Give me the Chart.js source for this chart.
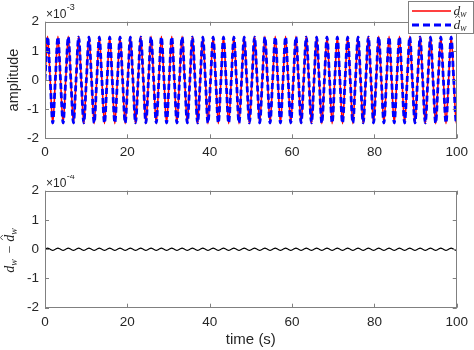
<!DOCTYPE html>
<html>
<head>
<meta charset="utf-8">
<script src="https://cdn.jsdelivr.net/npm/chart.js@4.4.0/dist/chart.umd.min.js"></script>
<style>
  html, body { margin: 0; padding: 0; background: #fff; }
  .panel { position: absolute; left: 0; width: 474px; height: 175px; }
</style>
</head>
<body>
<div class="panel" style="top:0"><canvas id="topChart" width="474" height="175"></canvas></div>
<div class="panel" style="top:175px"><canvas id="bottomChart" width="474" height="175"></canvas></div>
<script>
// time samples (s), every quarter period of the disturbance
const time = [
  0, 0.63, 1.26, 1.88, 2.51, 3.14, 3.77, 4.40, 5.03, 5.65,
  6.28, 6.91, 7.54, 8.17, 8.80, 9.42, 10.05, 10.68, 11.31, 11.94,
  12.57, 13.19, 13.82, 14.45, 15.08, 15.71, 16.34, 16.96, 17.59, 18.22,
  18.85, 19.48, 20.11, 20.73, 21.36, 21.99, 22.62, 23.25, 23.88, 24.50,
  25.13, 25.76, 26.39, 27.02, 27.65, 28.27, 28.90, 29.53, 30.16, 30.79,
  31.42, 32.04, 32.67, 33.30, 33.93, 34.56, 35.19, 35.81, 36.44, 37.07,
  37.70, 38.33, 38.96, 39.58, 40.21, 40.84, 41.47, 42.10, 42.73, 43.35,
  43.98, 44.61, 45.24, 45.87, 46.50, 47.12, 47.75, 48.38, 49.01, 49.64,
  50.27, 50.89, 51.52, 52.15, 52.78, 53.41, 54.04, 54.66, 55.29, 55.92,
  56.55, 57.18, 57.81, 58.43, 59.06, 59.69, 60.32, 60.95, 61.58, 62.20,
  62.83, 63.46, 64.09, 64.72, 65.35, 65.97, 66.60, 67.23, 67.86, 68.49,
  69.12, 69.74, 70.37, 71.00, 71.63, 72.26, 72.88, 73.51, 74.14, 74.77,
  75.40, 76.03, 76.65, 77.28, 77.91, 78.54, 79.17, 79.80, 80.42, 81.05,
  81.68, 82.31, 82.94, 83.57, 84.19, 84.82, 85.45, 86.08, 86.71, 87.34,
  87.96, 88.59, 89.22, 89.85, 90.48, 91.11, 91.73, 92.36, 92.99, 93.62,
  94.25, 94.88, 95.50, 96.13, 96.76, 97.39, 98.02, 98.65, 99.27, 99.90,
  100
];

// d_w (x 1e-3)
const dw = [
  0, 1.5, 0, -1.5, 0, 1.5, 0, -1.5, 0, 1.5, 0, -1.5, 0, 1.5, 0, -1.5, 0, 1.5, 0, -1.5,
  0, 1.5, 0, -1.5, 0, 1.5, 0, -1.5, 0, 1.5, 0, -1.5, 0, 1.5, 0, -1.5, 0, 1.5, 0, -1.5,
  0, 1.5, 0, -1.5, 0, 1.5, 0, -1.5, 0, 1.5, 0, -1.5, 0, 1.5, 0, -1.5, 0, 1.5, 0, -1.5,
  0, 1.5, 0, -1.5, 0, 1.5, 0, -1.5, 0, 1.5, 0, -1.5, 0, 1.5, 0, -1.5, 0, 1.5, 0, -1.5,
  0, 1.5, 0, -1.5, 0, 1.5, 0, -1.5, 0, 1.5, 0, -1.5, 0, 1.5, 0, -1.5, 0, 1.5, 0, -1.5,
  0, 1.5, 0, -1.5, 0, 1.5, 0, -1.5, 0, 1.5, 0, -1.5, 0, 1.5, 0, -1.5, 0, 1.5, 0, -1.5,
  0, 1.5, 0, -1.5, 0, 1.5, 0, -1.5, 0, 1.5, 0, -1.5, 0, 1.5, 0, -1.5, 0, 1.5, 0, -1.5,
  0, 1.5, 0, -1.5, 0, 1.5, 0, -1.5, 0, 1.5, 0, -1.5, 0, 1.5, 0, -1.5, 0, 1.5, 0, -1.5,
  -1.46
];

// estimate of d_w (x 1e-3)
const dwHat = [
  0, 1.47, 0, -1.47, 0, 1.47, 0, -1.47, 0, 1.47, 0, -1.47, 0, 1.47, 0, -1.47, 0, 1.47, 0, -1.47,
  0, 1.47, 0, -1.47, 0, 1.47, 0, -1.47, 0, 1.47, 0, -1.47, 0, 1.47, 0, -1.47, 0, 1.47, 0, -1.47,
  0, 1.47, 0, -1.47, 0, 1.47, 0, -1.47, 0, 1.47, 0, -1.47, 0, 1.47, 0, -1.47, 0, 1.47, 0, -1.47,
  0, 1.47, 0, -1.47, 0, 1.47, 0, -1.47, 0, 1.47, 0, -1.47, 0, 1.47, 0, -1.47, 0, 1.47, 0, -1.47,
  0, 1.47, 0, -1.47, 0, 1.47, 0, -1.47, 0, 1.47, 0, -1.47, 0, 1.47, 0, -1.47, 0, 1.47, 0, -1.47,
  0, 1.47, 0, -1.47, 0, 1.47, 0, -1.47, 0, 1.47, 0, -1.47, 0, 1.47, 0, -1.47, 0, 1.47, 0, -1.47,
  0, 1.47, 0, -1.47, 0, 1.47, 0, -1.47, 0, 1.47, 0, -1.47, 0, 1.47, 0, -1.47, 0, 1.47, 0, -1.47,
  0, 1.47, 0, -1.47, 0, 1.47, 0, -1.47, 0, 1.47, 0, -1.47, 0, 1.47, 0, -1.47, 0, 1.47, 0, -1.47,
  -1.43
];

// estimation error d_w - d^_w (x 1e-4)
const err = [
  0, 0.04, 0, -0.04, 0, 0.04, 0, -0.04, 0, 0.04, 0, -0.04, 0, 0.04, 0, -0.04, 0, 0.04, 0, -0.04,
  0, 0.04, 0, -0.04, 0, 0.04, 0, -0.04, 0, 0.04, 0, -0.04, 0, 0.04, 0, -0.04, 0, 0.04, 0, -0.04,
  0, 0.04, 0, -0.04, 0, 0.04, 0, -0.04, 0, 0.04, 0, -0.04, 0, 0.04, 0, -0.04, 0, 0.04, 0, -0.04,
  0, 0.04, 0, -0.04, 0, 0.04, 0, -0.04, 0, 0.04, 0, -0.04, 0, 0.04, 0, -0.04, 0, 0.04, 0, -0.04,
  0, 0.04, 0, -0.04, 0, 0.04, 0, -0.04, 0, 0.04, 0, -0.04, 0, 0.04, 0, -0.04, 0, 0.04, 0, -0.04,
  0, 0.04, 0, -0.04, 0, 0.04, 0, -0.04, 0, 0.04, 0, -0.04, 0, 0.04, 0, -0.04, 0, 0.04, 0, -0.04,
  0, 0.04, 0, -0.04, 0, 0.04, 0, -0.04, 0, 0.04, 0, -0.04, 0, 0.04, 0, -0.04, 0, 0.04, 0, -0.04,
  0, 0.04, 0, -0.04, 0, 0.04, 0, -0.04, 0, 0.04, 0, -0.04, 0, 0.04, 0, -0.04, 0, 0.04, 0, -0.04,
  -0.04
];

const xTicks = [0, 20, 40, 60, 80, 100];
const yTicks = [-2, -1, 0, 1, 2];

const FONT = '"Liberation Sans", Arial, Helvetica, sans-serif';
const SERIF = '"Liberation Serif", "DejaVu Serif", serif';
const TEXT = '#262626';
const BOX = '#808080';

// italic d with optional hat and subscript w, returns the width used
function symbol(ctx, x, y, size, hat) {
    ctx.font = 'italic ' + size + 'px ' + SERIF;
    ctx.fillText('d', x, y);
    const w = ctx.measureText('d').width;
    if (hat) {
        const cx = x + w * 0.6;
        ctx.beginPath();
        ctx.moveTo(cx - 2.5, y - size * 0.8);
        ctx.lineTo(cx, y - size * 0.97);
        ctx.lineTo(cx + 2.5, y - size * 0.8);
        ctx.lineWidth = 0.8;
        ctx.stroke();
    }
    ctx.font = 'italic ' + (size * 0.7) + 'px ' + SERIF;
    ctx.fillText('w', x + w, y + size * 0.22);
    return w + ctx.measureText('w').width;
}

// matlab-like box, inward ticks, exponent, legend
const decor = {
    id: 'decor',
    afterDraw(chart, args, opts) {
        const { ctx, chartArea: a, scales: { x, y } } = chart;
        ctx.save();
        ctx.strokeStyle = BOX;
        ctx.lineWidth = 1;
        ctx.strokeRect(Math.round(a.left) + 0.5, Math.round(a.top) + 0.5,
            Math.round(a.right - a.left) - 1, Math.round(a.bottom - a.top) - 1);
        ctx.beginPath();
        xTicks.forEach(v => {
            const px = Math.round(x.getPixelForValue(v)) + 0.5;
            ctx.moveTo(px, a.bottom); ctx.lineTo(px, a.bottom - 4);
            ctx.moveTo(px, a.top); ctx.lineTo(px, a.top + 4);
        });
        yTicks.forEach(v => {
            const py = Math.round(y.getPixelForValue(v)) + 0.5;
            ctx.moveTo(a.left, py); ctx.lineTo(a.left + 4, py);
            ctx.moveTo(a.right, py); ctx.lineTo(a.right - 4, py);
        });
        ctx.stroke();

        // x 10^n above the y axis
        ctx.fillStyle = TEXT;
        ctx.textBaseline = 'alphabetic';
        ctx.font = '12px ' + FONT;
        ctx.fillText('\u00d710', a.left + 1, a.top - 4);
        const w10 = ctx.measureText('\u00d710').width;
        ctx.font = '9px ' + FONT;
        ctx.fillText(opts.exponent, a.left + 1 + w10 + 0.5, a.top - 12);

        if (opts.mathLabel) {
            // d_w - d^_w along the y axis
            ctx.save();
            ctx.translate(14, (a.top + a.bottom) / 2);
            ctx.rotate(-Math.PI / 2);
            ctx.strokeStyle = TEXT;
            const size = 14;
            ctx.font = size + 'px ' + SERIF;
            const minus = ' \u2212 ';
            const mw = ctx.measureText(minus).width;
            const sw = 16;
            let cx = -(2 * sw + mw) / 2;
            symbol(ctx, cx, 0, size, false);
            cx += sw;
            ctx.font = size + 'px ' + SERIF;
            ctx.fillText(minus, cx, 0);
            cx += mw;
            symbol(ctx, cx, 0, size, true);
            ctx.restore();
        }

        if (opts.legend) {
            const lx = 408.5, ly = 1.5, lw = 65, lh = 32;
            ctx.fillStyle = '#fff';
            ctx.fillRect(lx, ly, lw, lh);
            ctx.strokeStyle = BOX;
            ctx.lineWidth = 1;
            ctx.strokeRect(lx, ly, lw, lh);

            ctx.beginPath();
            ctx.strokeStyle = '#ff0000';
            ctx.lineWidth = 1.5;
            ctx.moveTo(412, 11); ctx.lineTo(451, 11);
            ctx.stroke();

            ctx.beginPath();
            ctx.strokeStyle = '#0000ff';
            ctx.lineWidth = 2.8;
            ctx.setLineDash([7, 4]);
            ctx.moveTo(412, 25); ctx.lineTo(451, 25);
            ctx.stroke();
            ctx.setLineDash([]);

            ctx.fillStyle = TEXT;
            ctx.strokeStyle = TEXT;
            symbol(ctx, 453.5, 14.5, 13.5, false);
            symbol(ctx, 453.5, 28.5, 13.5, true);
        }
        ctx.restore();
    }
};

function axes(xHeight, xTitle, yTitle) {
    return {
        x: {
            type: 'linear', min: 0, max: 100,
            afterBuildTicks: s => { s.ticks = xTicks.map(v => ({ value: v })); },
            afterFit: s => { s.height = xHeight; },
            grid: { display: false, drawTicks: false },
            border: { display: false },
            ticks: { color: TEXT, font: { family: FONT, size: 13.5 }, padding: 6, maxRotation: 0, autoSkip: false },
            title: { display: !!xTitle, text: xTitle, color: TEXT, font: { family: FONT, size: 15 }, padding: { top: 0, bottom: 1 } }
        },
        y: {
            min: -2, max: 2,
            afterBuildTicks: s => { s.ticks = yTicks.map(v => ({ value: v })); },
            afterFit: s => { s.width = 45; },
            grid: { display: false, drawTicks: false },
            border: { display: false },
            ticks: { color: TEXT, font: { family: FONT, size: 13.5 }, padding: 6 },
            title: { display: !!yTitle, text: yTitle, color: TEXT, font: { family: FONT, size: 14.5 }, padding: { top: 5, bottom: 0 } }
        }
    };
}

const common = {
    responsive: false,
    animation: false,
    elements: { point: { radius: 0 }, line: { cubicInterpolationMode: 'monotone', fill: false } }
};

const topChart = new Chart(document.getElementById('topChart'), {
    type: 'line',
    data: {
        datasets: [{
            label: 'estimate',
            data: time.map((t, i) => ({ x: t, y: dwHat[i] })),
            borderColor: '#0000ff',
            borderWidth: 2.8,
            borderDash: [6, 3],
            order: 0
        }, {
            label: 'dw',
            data: time.map((t, i) => ({ x: t, y: dw[i] })),
            borderColor: '#ff0000',
            borderWidth: 1.6,
            order: 1
        }]
    },
    options: {
        ...common,
        layout: { padding: { top: 21.7, right: 13.3, bottom: 0, left: 0 } },
        scales: axes(36.7, '', 'amplitude'),
        plugins: {
            legend: { display: false },
            tooltip: { enabled: false },
            decor: { exponent: '-3', legend: true }
        }
    },
    plugins: [decor]
});

const bottomChart = new Chart(document.getElementById('bottomChart'), {
    type: 'line',
    data: {
        datasets: [{
            label: 'error',
            data: time.map((t, i) => ({ x: t, y: err[i] })),
            borderColor: '#000000',
            borderWidth: 1.2
        }]
    },
    options: {
        ...common,
        layout: { padding: { top: 15.7, right: 13.3, bottom: 0, left: 0 } },
        scales: axes(42.3, 'time (s)', ''),
        plugins: {
            legend: { display: false },
            tooltip: { enabled: false },
            decor: { exponent: '-4', mathLabel: true }
        }
    },
    plugins: [decor]
});
</script>
</body>
</html>
